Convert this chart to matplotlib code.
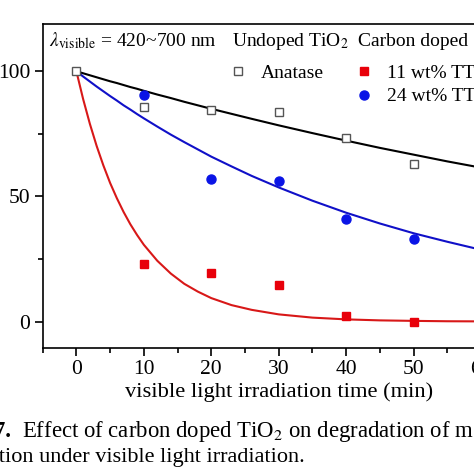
import matplotlib
matplotlib.use("Agg")
import matplotlib.pyplot as plt
from matplotlib.ticker import MultipleLocator

plt.rcParams['font.family'] = ['Liberation Serif', 'DejaVu Serif']
plt.rcParams['mathtext.fontset'] = 'stix'

# measured points
t_pts = [0, 10, 20, 30, 40, 50]
anatase = [100, 85.7, 84.7, 83.7, 73.3, 62.8]
tt11 = [100, 23.2, 19.6, 14.8, 2.4, 0.0]
tt24 = [100, 90.4, 56.8, 56.1, 40.8, 33.1]

# fitted curves
t_fit = [0, 1, 2, 3, 4, 5, 6, 7, 8, 9, 10, 12, 14, 16, 18, 20, 23, 26, 30,
         35, 40, 45, 50, 55, 60, 65]
fit_anatase = [100, 99.2, 98.4, 97.6, 96.8, 96.0, 95.3, 94.5, 93.7, 93.0, 92.2,
               90.7, 89.3, 87.8, 86.4, 85.0, 83.0, 81.0, 78.4, 75.3, 72.3, 69.4,
               66.7, 64.0, 61.5, 59.1]
fit_tt11 = [100, 88.9, 79.0, 70.2, 62.4, 55.4, 49.3, 43.8, 38.9, 34.6, 30.7,
            24.3, 19.2, 15.1, 12.0, 9.4, 6.6, 4.7, 2.9, 1.6, 0.9, 0.5, 0.3,
            0.15, 0.1, 0.05]
fit_tt24 = [100, 97.9, 95.9, 93.9, 92.0, 90.1, 88.3, 86.4, 84.7, 82.9, 81.2,
            77.9, 74.7, 71.7, 68.8, 65.9, 62.0, 58.2, 53.6, 48.3, 43.5, 39.2,
            35.3, 31.9, 28.7, 25.9]

fig = plt.figure(figsize=(4.74, 4.74), dpi=100)
ax = fig.add_axes([0.090, 0.266, 0.996, 0.684])

ax.plot(t_fit, fit_anatase, color='black', lw=1.5)
ax.plot(t_fit, fit_tt24, color='#1010c8', lw=1.5)
ax.plot(t_fit, fit_tt11, color='#d81818', lw=1.5)

ax.plot(t_pts, anatase, 's', ms=5.5, mfc='white', mec='#555555', mew=1)
ax.plot(t_pts[1:], tt11[1:], 's', ms=5.5, color='#e8000a')
ax.plot(t_pts[1:], tt24[1:], 'o', ms=6.5, color='#0a14e6')

ax.set_xlim(-5, 65)
ax.set_ylim(-10.5, 119)
ax.xaxis.set_major_locator(MultipleLocator(10))
ax.xaxis.set_minor_locator(MultipleLocator(5))
ax.yaxis.set_major_locator(MultipleLocator(50))
ax.yaxis.set_minor_locator(MultipleLocator(25))
ax.tick_params(which='major', length=6, width=1.2, labelsize=15.5, direction='out', pad=3)
ax.tick_params(which='minor', length=3.5, width=1.2, direction='out')
for s in ax.spines.values():
    s.set_linewidth(1.2)
ax.set_xlabel('visible light irradiation time (min)', fontsize=16.2, labelpad=2)

# in-plot legend
ax.text(-4.0, 110, r'$\lambda_{\mathrm{visible}}$ = 420~700 nm', fontsize=14, va='baseline')
ax.text(23.1, 110, r'Undoped TiO$_2$', fontsize=14, va='baseline')
ax.text(41.7, 110, 'Carbon doped', fontsize=14, va='baseline')
ax.plot([23.9], [100], 's', ms=5.5, mfc='white', mec='#555555', mew=1)
ax.text(27.4, 97.5, 'Anatase', fontsize=14, va='baseline')
ax.plot([42.7], [100], 's', ms=5.5, color='#e8000a')
ax.text(46.0, 97.5, '11 wt% TT', fontsize=14, va='baseline')
ax.plot([42.7], [90.4], 'o', ms=6.5, color='#0a14e6')
ax.text(46.0, 88, '24 wt% TT', fontsize=14, va='baseline')

# caption
fig.text(11 / 474, 0.078, 'Fig. 7.', fontsize=16.4, fontweight='bold', ha='right', va='baseline')
fig.text(22 / 474, 0.078, r'Effect of carbon doped TiO$_2$ on degradation of m',
         fontsize=16.4, ha='left', va='baseline')
fig.text(305 / 474, 0.025, 'solution under visible light irradiation.',
         fontsize=16, ha='right', va='baseline')

fig.savefig('out.png', dpi=100)
